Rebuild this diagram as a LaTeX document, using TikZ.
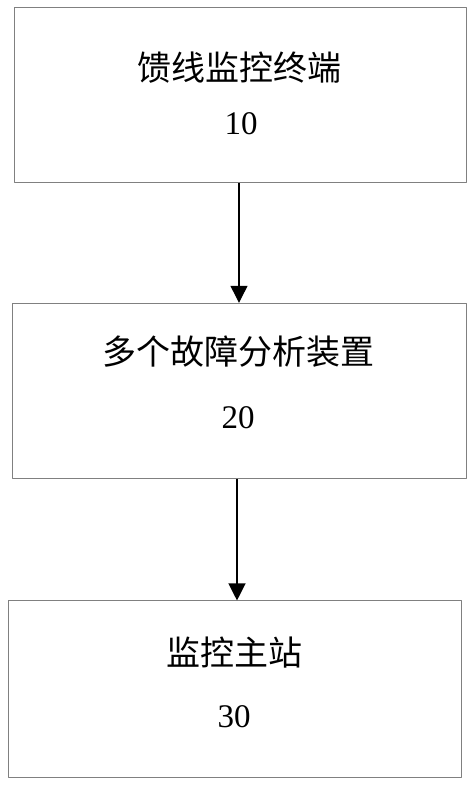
\documentclass[tikz,border=0pt]{standalone}
\usepackage{fontspec}
\setmainfont{Liberation Serif}
\newfontfamily\cjk{Noto Sans CJK SC}
\usetikzlibrary{arrows.meta}
\begin{document}
\begin{tikzpicture}[x=1pt, y=-1pt, line join=round, >={Triangle[width=17pt,length=17pt]},
	box/.style={draw=black!50, line width=1pt, minimum width=#1, inner sep=0pt},
	zh/.style={font=\cjk\fontsize{34pt}{36pt}\selectfont, inner sep=0pt},
	num/.style={font=\fontsize{33pt}{36pt}\selectfont, inner sep=0pt},
	link/.style={->, line width=1.2pt}]
	\useasboundingbox (0,0) rectangle (474,787);
	\node[box=452pt, minimum height=175pt] (b10) at (240,94.5) {};
	\node[box=453.5pt, minimum height=175pt] (b20) at (239.25,390.8) {};
	\node[box=453.3pt, minimum height=176.7pt] (b30) at (235.3,689.3) {};
	\node[zh] (n10) at (239,68) {馈线监控终端};
	\node[num] (m10) at (241,124) {10};
	\node[zh] (n20) at (238.3,352) {多个故障分析装置};
	\node[num] (m20) at (238,418) {20};
	\node[zh] (n30) at (234,653) {监控主站};
	\node[num] (m30) at (234,717) {30};
	\coordinate (x1) at (239,0);
	\coordinate (x2) at (237,0);
	\draw[link] (b10.south -| x1) -- (b20.north -| x1);
	\draw[link] (b20.south -| x2) -- (b30.north -| x2);
\end{tikzpicture}
\end{document}
